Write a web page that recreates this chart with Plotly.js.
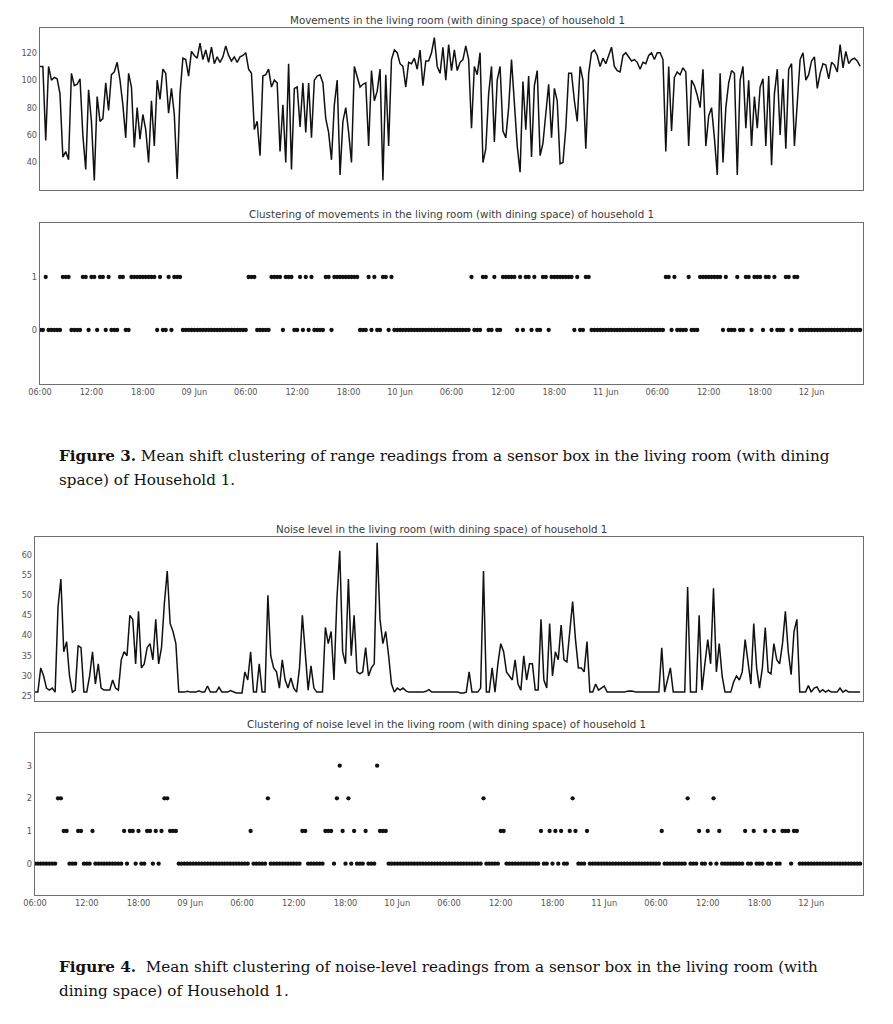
<!DOCTYPE html>
<html><head><meta charset="utf-8">
<script src="https://cdn.plot.ly/plotly-3.0.1.min.js"></script>
<style>html,body{margin:0;padding:0;background:#fff}#chart{width:893px;height:1024px}</style>
</head><body><div id="chart"></div>
<script>
// Samples every 20 minutes starting 8 Jun 06:00
const sampleStart = Date.UTC(2017, 5, 8, 6, 0);
const sampleStepMinutes = 20;

const movementValues = [
110,110,56,110,100,102,101,90,44,48,42,105,96,97,101,60,35,93,70,27,88,70,72,98,
78,104,106,113,100,82,58,105,95,51,80,57,75,64,40,85,52,100,86,108,105,76,94,75,
28,90,116,115,103,121,118,116,127,115,122,113,124,112,117,113,117,125,118,114,117,113,117,118,
120,108,105,64,70,45,103,104,108,95,100,98,48,82,40,112,35,94,95,66,98,62,98,58,
100,103,104,98,72,62,42,82,100,31,70,80,62,40,110,103,95,97,98,52,107,85,92,108,
27,104,52,115,122,120,112,110,95,113,112,116,108,122,96,114,114,120,131,110,105,124,100,126,
107,122,107,113,115,125,115,65,110,104,120,40,50,90,110,55,100,110,63,58,80,115,80,52,
33,99,64,103,44,96,107,45,54,75,97,58,94,85,39,40,65,105,105,85,70,110,100,50,
105,120,122,118,110,116,112,118,124,110,107,106,118,120,117,114,115,113,108,113,112,118,120,115,
120,120,115,48,110,63,102,106,104,109,106,52,100,96,89,80,108,52,74,80,58,31,105,40,
80,98,107,105,31,100,110,65,100,52,88,65,95,101,52,103,38,90,108,60,101,50,108,112,
52,80,115,120,100,104,114,117,94,105,112,111,101,113,111,106,126,109,121,112,115,116,114,110
];

const movementClusters = [
0,0,1,0,0,0,0,0,1,1,1,0,0,0,0,1,1,0,1,1,0,1,1,0,
1,0,0,0,1,1,0,0,1,1,1,1,1,1,1,1,1,0,1,0,0,1,0,1,
1,1,0,0,0,0,0,0,0,0,0,0,0,0,0,0,0,0,0,0,0,0,0,0,
0,1,1,1,0,0,0,0,0,1,1,1,1,0,1,1,1,0,0,1,0,1,0,1,
0,0,0,0,1,1,0,1,1,1,1,1,1,1,1,1,0,0,0,1,0,1,0,0,
1,1,0,1,0,0,0,0,0,0,0,0,0,0,0,0,0,0,0,0,0,0,0,0,
0,0,0,0,0,0,0,1,0,0,0,1,1,0,0,1,0,0,1,1,1,1,1,0,
1,0,1,1,0,1,0,0,1,1,0,1,1,1,1,1,1,1,1,0,1,0,0,1,
1,0,0,0,0,0,0,0,0,0,0,0,0,0,0,0,0,0,0,0,0,0,0,0,
0,0,0,1,1,0,1,0,0,0,0,1,0,0,0,1,1,1,1,1,1,1,1,0,
1,0,0,0,1,0,0,1,1,0,1,1,1,0,1,1,0,1,0,0,0,1,1,0,
1,1,0,0,0,0,0,0,0,0,0,0,0,0,0,0,0,0,0,0,0,0,0,0
];

const noiseValues = [
26,26,32,30,27,26.5,27,26,47,54,36,38.5,30,26,26.5,37.5,37,26,26,30,36,28,33,27,
26.5,26.5,26.5,29,27,26.5,34,36,35,45,44,33,46,32,33,37,38,34,44,33,37,48,56,43,
41,38,26,26,26,26.2,26,26,26,26.3,26,26,27.5,26,26,26,27.2,26,26,26,26.4,26,25.8,25.8,
25.8,31,29,36,26,26,33,26,26,50,35,32,31,27,34,29,27,29.5,27,26,32,45,35,26.5,
32.5,27,26,26,26,42,38,41,29,49,61,36,33,54,35,45,31,30.5,31,37,30,32,33,63,
44,38,41,35,28,26,27,26.5,27,26.3,26,26,26,26,26,26,26.2,26.6,26,26,26,26,26,26,
26,26,26,26,25.8,25.8,26,31,26,26,26,27,56,26,26,32,26,33,38,36,31,30,29,34,
28,26.5,35,29,33,33,26.5,26.5,44,29,27,43,30,36,34,42.6,34,33.5,41,48.4,39,32,32,31,
38.5,26,26,28,26.5,27,27.5,26,26,26,26,26,26,26,26.2,26.3,26.2,26,26,26,26,26,26,26,
26,26,37,26,29,32,26,26,26,26,26,52,26,26,26,45,26.5,33,39,33,51.7,31,38,30,
26,26,26,28.5,30,29,31,39,34,28,43,32,27,32,42,31,30.5,38,34,33,38,46,36,30.3,
41,44,26,26,26,27.6,26,27,27.3,26,26.6,26,26.5,26,26,26,27,26,26.5,26,26,26,26,26
];

const noiseClusters = [
0,0,0,0,0,0,0,0,2,2,1,1,0,0,0,1,1,0,0,0,1,0,0,0,
0,0,0,0,0,0,0,1,0,1,1,0,1,0,0,1,1,0,1,0,1,2,2,1,
1,1,0,0,0,0,0,0,0,0,0,0,0,0,0,0,0,0,0,0,0,0,0,0,
0,0,0,1,0,0,0,0,0,2,0,0,0,0,0,0,0,0,0,0,0,1,1,0,
0,0,0,0,0,1,1,1,0,2,3,1,0,2,0,1,0,0,0,1,0,0,0,3,
1,1,1,0,0,0,0,0,0,0,0,0,0,0,0,0,0,0,0,0,0,0,0,0,
0,0,0,0,0,0,0,0,0,0,0,0,2,0,0,0,0,0,1,1,0,0,0,0,
0,0,0,0,0,0,0,0,1,0,0,1,0,1,0,1,0,0,1,2,1,0,0,0,
1,0,0,0,0,0,0,0,0,0,0,0,0,0,0,0,0,0,0,0,0,0,0,0,
0,0,1,0,0,0,0,0,0,0,0,2,0,0,0,1,0,0,1,0,2,0,1,0,
0,0,0,0,0,0,0,1,0,0,1,0,0,0,1,0,0,1,0,0,1,1,1,0,
1,1,0,0,0,0,0,0,0,0,0,0,0,0,0,0,0,0,0,0,0,0,0,0
];

const tickTimes = [
'2017-06-08 06:00','2017-06-08 12:00','2017-06-08 18:00','2017-06-09 00:00',
'2017-06-09 06:00','2017-06-09 12:00','2017-06-09 18:00','2017-06-10 00:00',
'2017-06-10 06:00','2017-06-10 12:00','2017-06-10 18:00','2017-06-11 00:00',
'2017-06-11 06:00','2017-06-11 12:00','2017-06-11 18:00','2017-06-12 00:00'
];
const tickLabels = ['06:00','12:00','18:00','09 Jun','06:00','12:00','18:00','10 Jun',
'06:00','12:00','18:00','11 Jun','06:00','12:00','18:00','12 Jun'];

const movementTicks = [40, 60, 80, 100, 120];
const movementClusterTicks = [0, 1];
const noiseTicks = [25, 30, 35, 40, 45, 50, 55, 60];
const noiseClusterTicks = [0, 1, 2, 3];

const titles = [
 'Movements in the living room (with dining space) of household 1',
 'Clustering of movements in the living room (with dining space) of household 1',
 'Noise level in the living room (with dining space) of household 1',
 'Clustering of noise level in the living room (with dining space) of household 1'
];
const captions = [
 ['<b>Figure 3.</b> Mean shift clustering of range readings from a sensor box in the living room (with dining', 'space) of Household 1.'],
 ['<b>Figure 4.</b>  Mean shift clustering of noise-level readings from a sensor box in the living room (with', 'dining space) of Household 1.']
];

function fmt(ms) { return new Date(ms).toISOString().slice(0, 19).replace('T', ' '); }
const times = movementValues.map((_, i) => fmt(sampleStart + i * sampleStepMinutes * 60000));
const xRange = ['2017-06-08 06:00:00', '2017-06-12 06:00:00'];

const W = 893, H = 1024;
const px = v => v / W, py = v => 1 - v / H;

const traces = [
 {x: times, y: movementValues, xaxis: 'x', yaxis: 'y', mode: 'lines', line: {color: '#111', width: 1.5}, hoverinfo: 'skip'},
 {x: times, y: movementClusters, xaxis: 'x2', yaxis: 'y2', mode: 'markers', marker: {color: '#111', size: 4.3, symbol: 'circle'}, hoverinfo: 'skip'},
 {x: times, y: noiseValues, xaxis: 'x3', yaxis: 'y3', mode: 'lines', line: {color: '#111', width: 1.5}, hoverinfo: 'skip'},
 {x: times, y: noiseClusters, xaxis: 'x4', yaxis: 'y4', mode: 'markers', marker: {color: '#111', size: 4.3, symbol: 'circle'}, hoverinfo: 'skip'}
];

const axBase = {showline: true, mirror: true, linecolor: '#6e6e6e', linewidth: 1.3, showgrid: false, zeroline: false, ticks: '', tickfont: {size: 8.2, color: '#555', family: 'DejaVu Sans'}};
function xa(domain, anchor, labels) {
  return Object.assign({}, axBase, {domain: domain, anchor: anchor, type: 'date', range: xRange,
    tickmode: 'array', tickvals: tickTimes, ticktext: tickLabels, showticklabels: labels});
}
function ya(domain, anchor, range, ticks) {
  return Object.assign({}, axBase, {domain: domain, anchor: anchor, range: range, tickmode: 'array', tickvals: ticks, ticktext: ticks.map(String)});
}

const d12 = [px(40), px(863)], d34 = [px(35), px(863)];
const layout = {
  width: W, height: H, margin: {l: 0, r: 0, t: 0, b: 0},
  paper_bgcolor: '#fff', plot_bgcolor: '#fff', showlegend: false,
  font: {family: 'DejaVu Sans', color: '#444'},
  xaxis: xa(d12, 'y', false),
  yaxis: ya([py(190), py(28)], 'x', [20, 138], movementTicks),
  xaxis2: xa(d12, 'y2', true),
  yaxis2: ya([py(384), py(223)], 'x2', [-1.02, 2.02], movementClusterTicks),
  xaxis3: xa(d34, 'y3', false),
  yaxis3: ya([py(701), py(537)], 'x3', [23.8, 64.4], noiseTicks),
  xaxis4: xa(d34, 'y4', true),
  yaxis4: ya([py(895), py(733)], 'x4', [-0.96, 4.0], noiseClusterTicks),
  annotations: []
};

const titlePos = [[458, 20], [451, 214], [441, 529], [446, 724]];
titles.forEach((t, i) => layout.annotations.push({text: t, xref: 'paper', yref: 'paper', x: px(titlePos[i][0]), y: py(titlePos[i][1]),
  xanchor: 'center', yanchor: 'middle', showarrow: false, font: {size: 10.3, color: '#3a3a3a', family: 'DejaVu Sans'}}));

const capPos = [[456, 480], [967, 991]];
captions.forEach((c, i) => c.forEach((line, j) => layout.annotations.push({text: line, xref: 'paper', yref: 'paper',
  x: px(57), y: py(capPos[i][j]), xanchor: 'left', yanchor: 'middle', showarrow: false,
  font: {size: 15.2, color: '#111', family: 'DejaVu Serif'}})));

Plotly.newPlot('chart', traces, layout, {staticPlot: true, displayModeBar: false});
</script></body></html>
